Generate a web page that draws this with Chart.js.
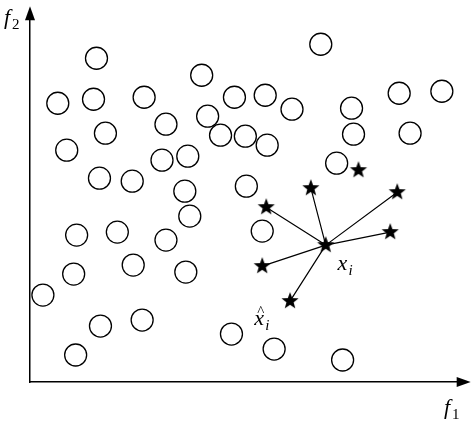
<!DOCTYPE html>
<html><head><meta charset="utf-8">
<script src="https://cdn.jsdelivr.net/npm/chart.js@4"></script>
<style>html,body{margin:0;padding:0;background:#fff;font-family:"Liberation Serif",serif}#w{width:474px;height:425px}</style>
</head><body><div id="w"><canvas id="c"></canvas></div>
<script>
// data units: x = horizontal position, y = height above f1 axis
const circleX=[97,323,58,94,145,203,236,267,402,445,354,167,106,209,222,294,356,413,247,67,163,189,269,339,100,133,186,248,191,77,118,167,264,74,134,187,43,101,143,233,76,276,345];
const circleY=[324,338,279,283,285,307,285,287,289,291,274,258,249,266,247,273,248,249,246,232,222,226,237,219,204,201,191,196,166,147,150,142,151,108,117,110,87,56,62,48,27,33,22];
const centerXY=[328,137];
const neighborX=[313,400,268,393,264,292];
const neighborY=[194,190,175,150,116,81];
const extraStarX=[361];
const extraStarY=[212];
const labels=[{t:'x',s:'i',x:346,y:117,hat:false},{t:'x',s:'i',x:262,y:62,hat:true}];

function starImg(r){const c=document.createElement('canvas');c.width=c.height=2*r+2;const g=c.getContext('2d');g.beginPath();
for(let i=0;i<10;i++){const a=-Math.PI/2+i*Math.PI/5;const rr=i%2?r*0.42:r;g.lineTo(r+1+rr*Math.cos(a),r+1+rr*Math.sin(a));}
g.closePath();g.fillStyle='#000';g.fill();return c;}
const star=starImg(9);

const lineData=[];
neighborX.forEach((x,i)=>{lineData.push({x:centerXY[0],y:centerXY[1]},{x:x,y:neighborY[i]},{x:null,y:null});});
const starData=neighborX.map((x,i)=>({x:x,y:neighborY[i]})).concat(extraStarX.map((x,i)=>({x:x,y:extraStarY[i]})),[{x:centerXY[0],y:centerXY[1]}]);

const SF='"Liberation Serif", "DejaVu Serif", serif';
const deco={id:'deco',afterDraw(ch){const g=ch.ctx,a=ch.chartArea,xs=ch.scales.x,ys=ch.scales.y;
g.save();g.fillStyle='#000';g.strokeStyle='#000';g.lineWidth=1.5;
g.beginPath();g.moveTo(a.right-2,a.bottom);g.lineTo(a.right+2,a.bottom);g.stroke();
g.beginPath();g.moveTo(a.right+9,a.bottom);g.lineTo(a.right-5,a.bottom-5);g.lineTo(a.right-5,a.bottom+5);g.fill();
g.beginPath();g.moveTo(a.left,a.top-6);g.lineTo(a.left-5,a.top+8);g.lineTo(a.left+5,a.top+8);g.fill();
g.textBaseline='alphabetic';
g.font='italic 22px '+SF;g.fillText('f',4,24);g.font='15px '+SF;g.fillText('2',12,29);
g.font='italic 22px '+SF;g.fillText('f',444,414);g.font='15px '+SF;g.fillText('1',452,419);
labels.forEach(l=>{const px=xs.getPixelForValue(l.x),py=ys.getPixelForValue(l.y);
g.font='italic 22px '+SF;g.fillText(l.t,px-6,py+5);g.font='italic 15px '+SF;g.fillText(l.s,px+5,py+10);
if(l.hat){g.font='15px '+SF;g.fillText('^',px-3,py-4);}});
g.restore();}};

function make(){
new Chart(document.getElementById('c'),{type:'scatter',
data:{datasets:[
{data:lineData,showLine:true,spanGaps:false,borderColor:'#000',borderWidth:1.2,pointRadius:0},
{data:circleX.map((x,i)=>({x:x,y:circleY[i]})),pointStyle:'circle',pointRadius:11,pointBackgroundColor:'#fff',pointBorderColor:'#000',pointBorderWidth:1.3},
{data:starData,pointStyle:star,pointRadius:9}
]},
plugins:[deco],
options:{responsive:true,maintainAspectRatio:false,animation:false,events:[],
layout:{padding:{left:22,right:0,top:0,bottom:35}},
plugins:{legend:{display:false},tooltip:{enabled:false}},
scales:{x:{type:'linear',min:30,max:465,ticks:{display:false},grid:{display:false},border:{display:true,color:'#000',width:1.5}},
y:{type:'linear',min:0,max:370,ticks:{display:false},grid:{display:false},border:{display:true,color:'#000',width:1.5}}}}});
}
Promise.all([document.fonts.load('italic 22px "Liberation Serif"'),document.fonts.load('15px "Liberation Serif"')]).then(make,make);
</script></body></html>
